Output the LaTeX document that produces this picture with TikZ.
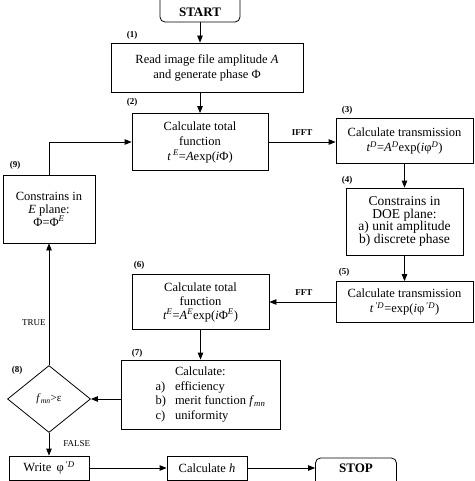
\documentclass[tikz,border=0pt]{standalone}
\usepackage{fontspec}
\setmainfont{Liberation Serif}
\usetikzlibrary{arrows.meta,shapes.geometric}
\begin{document}
\begin{tikzpicture}[x=1pt,y=-1pt,
  box/.style={draw,line width=0.8pt,inner sep=0pt,align=center,font=\fontsize{12.5}{15}\selectfont},
  term/.style={draw,line width=0.8pt,rounded corners=5pt,inner sep=0pt,font=\fontsize{13}{15}\bfseries\selectfont},
  arr/.style={-{Triangle[length=7pt,width=5.5pt]},line width=0.8pt},
  lbl/.style={font=\fontsize{9}{10}\bfseries\selectfont,inner sep=0pt},
  cond/.style={font=\fontsize{9}{10}\selectfont,inner sep=0pt}]
\useasboundingbox (0,0) rectangle (474,481);

% terminals
\node[term,minimum width=80pt,text height=22pt,text depth=5pt,anchor=base] (start) at (200,17) {START};
\node[term,minimum width=81pt,text height=14pt,text depth=20pt,anchor=base] (stop) at (356,472) {STOP};

% process boxes
\node[box,minimum width=192pt,minimum height=49pt] (b1) at (207,67.5)
  {Read image file amplitude \textit{A}\\and generate phase Φ};
\node[box,minimum width=136pt,minimum height=57pt] (b2) at (200,142)
  {Calculate total\\function\\\textit{t}\,\textsuperscript{\textit{E}}=\textit{A}exp(\textit{i}Φ)};
\node[box,minimum width=137pt,minimum height=45pt] (b3) at (404.5,141)
  {Calculate transmission\\\textit{t}\textsuperscript{\textit{D}}=\textit{A}\textsuperscript{\textit{D}}exp(\textit{i}φ\textsuperscript{\textit{D}})};
\node[box,minimum width=117pt,minimum height=67pt,font=\fontsize{13.5}{12.5}\selectfont] (b4) at (404.5,221.5)
  {Constrains in\\DOE plane:\\a) unit amplitude\\b) discrete phase};
\node[box,minimum width=137pt,minimum height=41pt] (b5) at (404.5,302)
  {Calculate transmission\\\textit{t}\,\textsuperscript{′\textit{D}}=exp(\textit{i}φ\,\textsuperscript{′\textit{D}})};
\node[box,minimum width=137pt,minimum height=55pt,font=\fontsize{12.5}{14}\selectfont] (b6) at (200.5,302)
  {Calculate total\\function\\\textit{t}\textsuperscript{\textit{E}}=\textit{A}\textsuperscript{\textit{E}}exp(\textit{i}Φ\textsuperscript{\textit{E}})};
\node[box,minimum width=159pt,minimum height=69pt,font=\fontsize{12.5}{14.5}\selectfont] (b7) at (200.5,394.5)
  {\hspace*{20pt}\begin{tabular}{@{}l@{\hspace{9pt}}l@{}}
   & Calculate:\\
   a) & efficiency\\
   b) & merit function \textit{f}\textsubscript{\textit{mn}}\\
   c) & uniformity
   \end{tabular}};
\node[box,minimum width=92pt,minimum height=68pt,font=\fontsize{12.5}{13}\selectfont] (b9) at (49,209)
  {Constrains in\\\textit{E} plane:\\Φ=Φ\textsuperscript{\textit{E}}};
\node[draw,line width=0.8pt,shape=diamond,inner sep=0pt,minimum width=83pt,minimum height=67pt,aspect=1.24,font=\fontsize{11}{12}\selectfont] (dia) at (49,399)
  {\textit{f}\textsubscript{\textit{mn}}>ε};
\node[box,minimum width=80pt,minimum height=24pt] (wr) at (49,468)
  {Write\, φ\,\textsuperscript{′\textit{D}}};
\node[box,minimum width=80pt,minimum height=24pt] (ch) at (207,468)
  {Calculate \textit{h}};

% step labels
\node[lbl] (l1) at (132,35) {(1)};
\node[lbl] (l2) at (132,102) {(2)};
\node[lbl] (l3) at (347,110) {(3)};
\node[lbl] (l4) at (347,180) {(4)};
\node[lbl] (l5) at (344,272) {(5)};
\node[lbl] (l6) at (139,265) {(6)};
\node[lbl] (l7) at (137,353) {(7)};
\node[lbl] (l8) at (17,370) {(8)};
\node[lbl] (l9) at (15,165) {(9)};

% connectors
\draw[arr] (start.south) -- (start.south |- b1.north);
\draw[arr] (b2.north |- b1.south) -- (b2.north);
\draw[arr] (b2.east) -- node[lbl,above=6pt] (ifft) {IFFT} (b2.east -| b3.west);
\draw[arr] (b3.south) -- (b4.north);
\draw[arr] (b4.south) -- (b5.north);
\draw[arr] (b5.west) -- node[lbl,above=6pt,pos=0.48] (fft) {FFT} (b6.east);
\draw[arr] (b7.north |- b6.south) -- (b7.north);
\draw[arr] (dia.east -| b7.west) -- (dia.east);
\draw[arr] (dia.north) -- node[cond,pos=0.35,left=3pt] (true) {TRUE} (b9.south);
\draw[arr] (b9.north) |- (b2.west);
\draw[arr] (dia.south) -- node[cond,right=14pt,pos=0.45] (false) {FALSE} (wr.north);
\draw[arr] (wr.east) -- (ch.west);
\draw[arr] (ch.east) -- (ch.east -| stop.west);
\end{tikzpicture}
\end{document}
